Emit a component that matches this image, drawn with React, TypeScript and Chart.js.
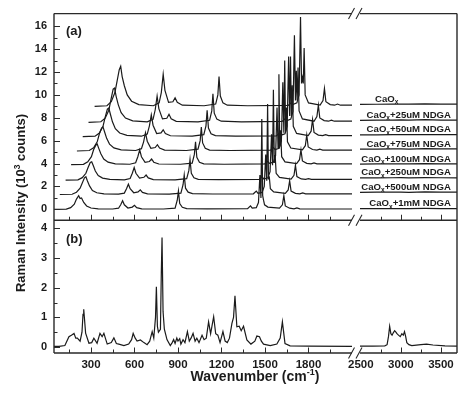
import React, { useEffect, useRef } from 'react';
import { Chart, registerables } from 'chart.js';

Chart.register(...registerables);

const FAMILY = "'Liberation Sans', Arial, Helvetica, sans-serif";
const INK = '#1b1b1b';

// axis ranges
const X1_MIN = 45, X1_MAX = 2100;
const X2_MIN = 2490, X2_MAX = 3700;
const YA_MIN = -0.95, YA_MAX = 17.1;
const YB_MIN = -0.2, YB_MAX = 4.27;

// panel (a): waterfall offsets (bottom -> top)
const A_OFFSET_Y = [0, 1.3, 2.55, 3.9, 5.1, 6.35, 7.6, 9.0];
const A_OFFSET_X = [0, 40, 80, 118, 158, 198, 238, 280];
const A_SUFFIX = ['+1mM NDGA', '+500uM NDGA', '+250uM NDGA', '+100uM NDGA', '+75uM NDGA', '+50uM NDGA', '+25uM NDGA', ''];

// panel (a) wavenumber grid, low range
const A_WAVE = [45, 130, 160, 185, 200, 215, 225, 235, 250, 270, 300, 350, 450, 490, 505, 518, 530, 555, 585, 600, 615, 650, 800, 880, 895, 903, 912, 930, 960, 1100, 1380, 1400, 1412, 1440, 1455, 1465, 1472, 1478, 1484, 1490, 1497, 1520, 1600, 1620, 1630, 1640, 1670, 1700, 1720, 1740, 2100];
const A_1MM = [0, 0.02, 0.15, 0.45, 0.9, 1.2, 0.95, 1.0, 0.6, 0.3, 0.12, 0.05, 0.03, 0.1, 0.4, 0.75, 0.4, 0.12, 0.2, 0.35, 0.15, 0.04, 0.03, 0.1, 0.8, 1.6, 0.5, 0.18, 0.06, 0.04, 0.06, 0.3, 0.1, 0.15, 0.6, 3.0, 1.0, 7.9, 1.2, 0.8, 0.4, 0.2, 0.1, 0.4, 1.2, 0.3, 0.1, 0.05, 0.12, 0.05, 0.03];
const A_500 = [0, 0.02, 0.2, 0.55, 1.0, 1.45, 1.55, 1.2, 0.75, 0.35, 0.15, 0.06, 0.03, 0.12, 0.5, 0.9, 0.5, 0.15, 0.22, 0.4, 0.18, 0.05, 0.03, 0.12, 0.85, 1.7, 0.55, 0.2, 0.07, 0.04, 0.06, 0.3, 0.1, 0.18, 0.7, 3.5, 1.2, 7.9, 1.4, 1.5, 0.5, 0.22, 0.1, 0.4, 1.2, 0.3, 0.1, 0.06, 0.13, 0.06, 0.05];
const A_250 = [0, 0.03, 0.22, 0.6, 1.1, 1.55, 1.6, 1.3, 0.8, 0.4, 0.18, 0.07, 0.03, 0.14, 0.6, 1.1, 0.6, 0.18, 0.25, 0.45, 0.2, 0.05, 0.03, 0.13, 0.85, 1.8, 0.6, 0.2, 0.07, 0.04, 0.06, 0.3, 0.1, 0.2, 0.75, 4.0, 1.3, 7.9, 1.5, 2.2, 0.6, 0.24, 0.1, 0.42, 1.3, 0.32, 0.11, 0.07, 0.14, 0.07, 0.05];
const A_100 = [0, 0.03, 0.25, 0.7, 1.3, 1.7, 1.8, 1.45, 0.95, 0.5, 0.22, 0.08, 0.04, 0.17, 0.7, 1.3, 0.7, 0.2, 0.28, 0.5, 0.22, 0.06, 0.04, 0.14, 0.9, 2.0, 0.65, 0.22, 0.08, 0.04, 0.07, 0.3, 0.12, 0.22, 0.8, 5.0, 1.5, 7.9, 1.6, 3.0, 0.7, 0.25, 0.1, 0.44, 1.3, 0.33, 0.12, 0.08, 0.15, 0.08, 0.05];
const A_75 = [0, 0.04, 0.28, 0.8, 1.5, 2.0, 2.1, 1.7, 1.1, 0.6, 0.27, 0.09, 0.04, 0.2, 0.8, 1.6, 0.85, 0.23, 0.3, 0.55, 0.25, 0.07, 0.04, 0.16, 0.9, 2.1, 0.7, 0.24, 0.08, 0.04, 0.07, 0.3, 0.12, 0.24, 0.85, 6.0, 1.6, 7.9, 1.7, 3.8, 0.8, 0.26, 0.1, 0.46, 1.4, 0.35, 0.13, 0.08, 0.16, 0.08, 0.05];
const A_50 = [0, 0.04, 0.32, 0.9, 1.7, 2.4, 2.5, 2.0, 1.3, 0.7, 0.32, 0.11, 0.04, 0.23, 0.95, 1.9, 1.0, 0.27, 0.33, 0.6, 0.28, 0.08, 0.04, 0.17, 0.95, 2.3, 0.75, 0.26, 0.09, 0.05, 0.07, 0.3, 0.13, 0.26, 0.9, 7.0, 1.8, 7.0, 1.8, 4.5, 0.9, 0.28, 0.1, 0.48, 1.5, 0.37, 0.14, 0.09, 0.18, 0.09, 0.05];
const A_25 = [0, 0.05, 0.36, 1.05, 2.0, 2.9, 3.0, 2.3, 1.55, 0.85, 0.38, 0.13, 0.05, 0.26, 1.1, 2.3, 1.2, 0.3, 0.36, 0.7, 0.32, 0.09, 0.05, 0.18, 1.0, 2.5, 0.8, 0.28, 0.1, 0.05, 0.08, 0.3, 0.14, 0.28, 0.95, 7.6, 1.9, 4.5, 1.9, 4.8, 1.0, 0.3, 0.1, 0.5, 1.5, 0.38, 0.15, 0.1, 0.19, 0.1, 0.05];
const A_CAOX = [0, 0.05, 0.4, 1.2, 2.2, 3.2, 3.5, 2.6, 1.8, 1.0, 0.45, 0.15, 0.05, 0.3, 1.2, 2.8, 1.4, 0.35, 0.4, 0.75, 0.35, 0.1, 0.05, 0.2, 1.0, 2.6, 0.9, 0.3, 0.1, 0.05, 0.08, 0.3, 0.15, 0.3, 1.0, 7.8, 2.0, 2.5, 2.0, 5.1, 1.0, 0.3, 0.1, 0.5, 1.55, 0.4, 0.15, 0.1, 0.2, 0.1, 0.05];

// panel (a) high range
const A2_WAVE = [2490, 2700, 2900, 3000, 3100, 3300, 3500, 3700];
const A2_1MM = [0.06, 0.06, 0.07, 0.06, 0.06, 0.08, 0.07, 0.06];
const A2_500 = [0.18, 0.2, 0.2, 0.2, 0.19, 0.22, 0.2, 0.2];
const A2_250 = [0.2, 0.2, 0.21, 0.22, 0.2, 0.23, 0.21, 0.2];
const A2_100 = [0.06, 0.07, 0.07, 0.08, 0.07, 0.09, 0.07, 0.07];
const A2_75 = [0.16, 0.17, 0.18, 0.18, 0.17, 0.2, 0.18, 0.18];
const A2_50 = [0.15, 0.16, 0.17, 0.18, 0.17, 0.19, 0.17, 0.17];
const A2_25 = [0.18, 0.19, 0.2, 0.21, 0.2, 0.24, 0.2, 0.2];
const A2_CAOX = [0.17, 0.18, 0.19, 0.2, 0.19, 0.22, 0.19, 0.19];

const A_LOW = [A_1MM, A_500, A_250, A_100, A_75, A_50, A_25, A_CAOX];
const A_HIGH = [A2_1MM, A2_500, A2_250, A2_100, A2_75, A2_50, A2_25, A2_CAOX];

// panel (b)
const B_WAVE = [45, 80, 120, 148, 165, 183, 195, 206, 225, 238, 245, 250, 263, 286, 305, 320, 342, 362, 377, 389, 412, 440, 458, 475, 492, 527, 560, 580, 591, 605, 618, 641, 665, 687, 705, 722, 733, 745, 751, 758, 765, 779, 785, 790, 797, 806, 824, 847, 860, 870, 880, 892, 900, 912, 920, 935, 948, 965, 978, 990, 1004, 1018, 1030, 1045, 1066, 1080, 1095, 1111, 1125, 1146, 1160, 1175, 1190, 1210, 1225, 1240, 1255, 1272, 1283, 1293, 1306, 1322, 1336, 1352, 1375, 1403, 1430, 1444, 1462, 1475, 1490, 1536, 1582, 1605, 1620, 1638, 1673, 1800, 2100];
const B_INT = [0.02, 0.02, 0.05, 0.35, 0.4, 0.46, 0.3, 0.3, 0.2, 0.5, 1.1, 1.27, 0.47, 0.13, 0.15, 0.3, 0.13, 0.46, 0.35, 0.46, 0.1, 0.15, 0.31, 0.12, 0.1, 0.05, 0.1, 0.25, 0.46, 0.3, 0.2, 0.24, 0.15, 0.08, 0.2, 0.52, 0.3, 1.0, 2.03, 0.7, 0.5, 0.6, 2.5, 3.69, 1.2, 0.6, 0.25, 0.05, 0.15, 0.25, 0.12, 0.3, 0.2, 0.28, 0.1, 0.25, 0.15, 0.52, 0.2, 0.3, 0.46, 0.2, 0.3, 0.15, 0.4, 0.25, 0.3, 0.85, 0.45, 1.02, 0.45, 0.4, 0.15, 0.52, 0.2, 0.15, 0.3, 0.8, 1.0, 1.73, 0.68, 0.7, 0.55, 0.7, 0.24, 0.1, 0.2, 0.37, 0.35, 0.2, 0.1, 0.05, 0.1, 0.3, 0.85, 0.12, 0.04, 0.03, 0.02];
const B2_WAVE = [2490, 2650, 2800, 2828, 2845, 2860, 2875, 2890, 2905, 2922, 2938, 2951, 2970, 2992, 3012, 3030, 3045, 3060, 3074, 3100, 3136, 3250, 3320, 3400, 3550, 3700];
const B2_INT = [0.03, 0.03, 0.04, 0.08, 0.35, 0.7, 0.45, 0.4, 0.48, 0.55, 0.5, 0.45, 0.4, 0.35, 0.45, 0.4, 0.52, 0.35, 0.15, 0.08, 0.05, 0.08, 0.1, 0.07, 0.04, 0.03];

// tick values
const YA_TICKS = [0, 2, 4, 6, 8, 10, 12, 14, 16];
const YB_TICKS = [0, 1, 2, 3, 4];
const X1_LABELS = [300, 600, 900, 1200, 1500, 1800];
const X2_LABELS = [2500, 3000, 3500];

function lowPoints(wave: number[], vals: number[], dx: number, dy: number) {
  const pts: { x: number; y: number }[] = [];
  for (let k = 0; k < wave.length; k++) {
    const x = wave[k] + dx;
    if (x <= X1_MAX) pts.push({ x, y: vals[k] + dy });
    else {
      const last = pts.length ? pts[pts.length - 1].y : dy;
      pts.push({ x: X1_MAX, y: last });
      break;
    }
  }
  return pts;
}

function highPoints(wave: number[], vals: number[], dy: number) {
  return wave.map((w, k) => ({ x: w, y: vals[k] + dy }));
}

type Part = { t: string; size: number; dy?: number };
function drawParts(ctx: CanvasRenderingContext2D, parts: Part[], x: number, y: number, align: 'left' | 'center' | 'right') {
  const widths: number[] = [];
  let total = 0;
  for (const p of parts) {
    ctx.font = `bold ${p.size}px ${FAMILY}`;
    const w = ctx.measureText(p.t).width;
    widths.push(w);
    total += w;
  }
  let cx = align === 'right' ? x - total : align === 'center' ? x - total / 2 : x;
  ctx.textAlign = 'left';
  ctx.textBaseline = 'alphabetic';
  parts.forEach((p, i) => {
    ctx.font = `bold ${p.size}px ${FAMILY}`;
    ctx.fillText(p.t, cx, y + (p.dy || 0));
    cx += widths[i];
  });
}

const fixTicks = (vals: number[]) => (scale: any) => {
  scale.ticks = vals.map((v) => ({ value: v }));
};

const decor = {
  id: 'decor',
  afterDraw(chart: any) {
    const ctx: CanvasRenderingContext2D = chart.ctx;
    const x1 = chart.scales.x1, x2 = chart.scales.x2, ya = chart.scales.ya, yb = chart.scales.yb;
    const L = x1.left, R = x2.right, T = ya.top, M = ya.bottom, B = yb.bottom;
    const gapL = x1.right, gapR = x2.left;
    ctx.save();
    ctx.strokeStyle = '#2a2a2a';
    ctx.lineWidth = 1.4;
    ctx.beginPath();
    ctx.moveTo(L, T); ctx.lineTo(L, B);
    ctx.moveTo(R, T); ctx.lineTo(R, B);
    for (const yy of [T, M, B]) {
      ctx.moveTo(L, yy); ctx.lineTo(gapL, yy);
      ctx.moveTo(gapR, yy); ctx.lineTo(R, yy);
    }
    ctx.stroke();
    // break marks
    ctx.lineWidth = 1.1;
    ctx.beginPath();
    for (const yy of [T, M, B]) {
      for (const cx of [gapL - 0.5, gapR - 1]) {
        ctx.moveTo(cx - 3, yy + 5.5);
        ctx.lineTo(cx + 3, yy - 5.5);
      }
    }
    ctx.stroke();
    // inward tick marks
    ctx.lineWidth = 1;
    ctx.beginPath();
    for (let v = 0; v <= 16; v += 1) {
      const p = Math.round(ya.getPixelForValue(v)) + 0.5;
      const len = v % 2 === 0 ? 6 : 3.5;
      ctx.moveTo(L, p); ctx.lineTo(L + len, p);
    }
    for (let v = 0; v <= 4; v += 0.5) {
      const p = Math.round(yb.getPixelForValue(v)) + 0.5;
      const len = v % 1 === 0 ? 6 : 3.5;
      ctx.moveTo(L, p); ctx.lineTo(L + len, p);
    }
    for (const yy of [M, B]) {
      for (let v = 150; v < X1_MAX; v += 150) {
        const p = Math.round(x1.getPixelForValue(v)) + 0.5;
        const len = v % 300 === 0 ? 5.5 : 3.5;
        ctx.moveTo(p, yy); ctx.lineTo(p, yy - len);
      }
      for (let v = 2750; v < X2_MAX; v += 250) {
        const p = Math.round(x2.getPixelForValue(v)) + 0.5;
        const len = v % 500 === 0 ? 5.5 : 3.5;
        ctx.moveTo(p, yy); ctx.lineTo(p, yy - len);
      }
    }
    ctx.stroke();

    ctx.fillStyle = INK;
    // panel labels
    drawParts(ctx, [{ t: '(a)', size: 13 }], 66, 35, 'left');
    drawParts(ctx, [{ t: '(b)', size: 13 }], 66, 243, 'left');
    // sample labels
    for (let i = 0; i < 8; i++) {
      const base = ya.getPixelForValue(A_OFFSET_Y[i] + A_HIGH[i][0]) - 2.5;
      const parts: Part[] = [{ t: 'CaO', size: 9.6 }, { t: 'x', size: 6.5, dy: 2.5 }];
      if (A_SUFFIX[i]) {
        parts.push({ t: A_SUFFIX[i], size: 9.6 });
        drawParts(ctx, parts, 451, base, 'right');
      } else {
        drawParts(ctx, parts, 375, base, 'left');
      }
    }
    // axis titles
    drawParts(ctx, [{ t: 'Wavenumber (cm', size: 14 }, { t: '-1', size: 9, dy: -6 }, { t: ')', size: 14 }], 255, 381, 'center');
    ctx.save();
    ctx.translate(25, 203);
    ctx.rotate(-Math.PI / 2);
    drawParts(ctx, [{ t: 'Raman Intensity (10', size: 13 }, { t: '3', size: 8.5, dy: -5.5 }, { t: ' counts)', size: 13 }], 0, 0, 'center');
    ctx.restore();
    ctx.restore();
  },
};

export default function App() {
  const ref = useRef<HTMLCanvasElement | null>(null);
  useEffect(() => {
    const canvas = ref.current;
    if (!canvas) return;
    const line = { borderColor: INK, borderWidth: 1.2, pointRadius: 0, tension: 0, fill: false };
    const datasets: any[] = [];
    for (let i = 0; i < 8; i++) {
      datasets.push({ ...line, label: `a${i}`, xAxisID: 'x1', yAxisID: 'ya', data: lowPoints(A_WAVE, A_LOW[i], A_OFFSET_X[i], A_OFFSET_Y[i]) });
      datasets.push({ ...line, label: `a${i}h`, xAxisID: 'x2', yAxisID: 'ya', data: highPoints(A2_WAVE, A_HIGH[i], A_OFFSET_Y[i]) });
    }
    datasets.push({ ...line, label: 'b', xAxisID: 'x1', yAxisID: 'yb', data: highPoints(B_WAVE, B_INT, 0) });
    datasets.push({ ...line, label: 'bh', xAxisID: 'x2', yAxisID: 'yb', data: highPoints(B2_WAVE, B2_INT, 0) });

    const tickFont = { family: FAMILY, size: 11.5, weight: 'bold' as const };
    const yFont = { family: FAMILY, size: 11, weight: 'bold' as const };
    const hideGrid = { display: false, drawTicks: false };
    const setH = (s: any) => { s.height = 45; };
    const setW = (s: any) => { s.width = 54; };
    const label = (v: any) => String(v);

    const chart = new Chart(canvas, {
      type: 'line',
      data: { datasets },
      options: {
        animation: false,
        responsive: false,
        devicePixelRatio: 1,
        layout: { padding: { top: 13, right: 17, left: 0, bottom: 0 } },
        plugins: { legend: { display: false }, tooltip: { enabled: false } },
        elements: { point: { radius: 0 }, line: { tension: 0 } },
        scales: {
          x1: {
            type: 'linear', position: 'bottom', stack: 'xs', stackWeight: 298,
            min: X1_MIN, max: X1_MAX,
            grid: hideGrid, border: { display: false },
            afterBuildTicks: fixTicks(X1_LABELS),
            ticks: { autoSkip: false, maxRotation: 0, padding: 5, color: INK, font: tickFont, callback: label },
            afterFit: setH,
          },
          xg: {
            type: 'linear', position: 'bottom', stack: 'xs', stackWeight: 8,
            min: 0, max: 1,
            grid: hideGrid, border: { display: false },
            ticks: { display: false },
            afterFit: setH,
          },
          x2: {
            type: 'linear', position: 'bottom', stack: 'xs', stackWeight: 97,
            min: X2_MIN, max: X2_MAX,
            grid: hideGrid, border: { display: false },
            afterBuildTicks: fixTicks(X2_LABELS),
            ticks: { autoSkip: false, maxRotation: 0, padding: 5, color: INK, font: tickFont, callback: label },
            afterFit: setH,
          },
          yb: {
            type: 'linear', position: 'left', stack: 'ys', stackWeight: 133,
            min: YB_MIN, max: YB_MAX,
            grid: hideGrid, border: { display: false },
            afterBuildTicks: fixTicks(YB_TICKS),
            ticks: { autoSkip: false, padding: 7, color: INK, font: yFont, callback: label },
            afterFit: setW,
          },
          ya: {
            type: 'linear', position: 'left', stack: 'ys', stackWeight: 207,
            min: YA_MIN, max: YA_MAX,
            grid: hideGrid, border: { display: false },
            afterBuildTicks: fixTicks(YA_TICKS),
            ticks: { autoSkip: false, padding: 7, color: INK, font: yFont, callback: label },
            afterFit: setW,
          },
        },
      } as any,
      plugins: [decor],
    });
    return () => chart.destroy();
  }, []);

  return (
    <div style={{ position: 'absolute', left: 0, top: 0, width: 474, height: 398, background: '#fff' }}>
      <canvas ref={ref} width={474} height={398} style={{ width: 474, height: 398, display: 'block' }} />
    </div>
  );
}
